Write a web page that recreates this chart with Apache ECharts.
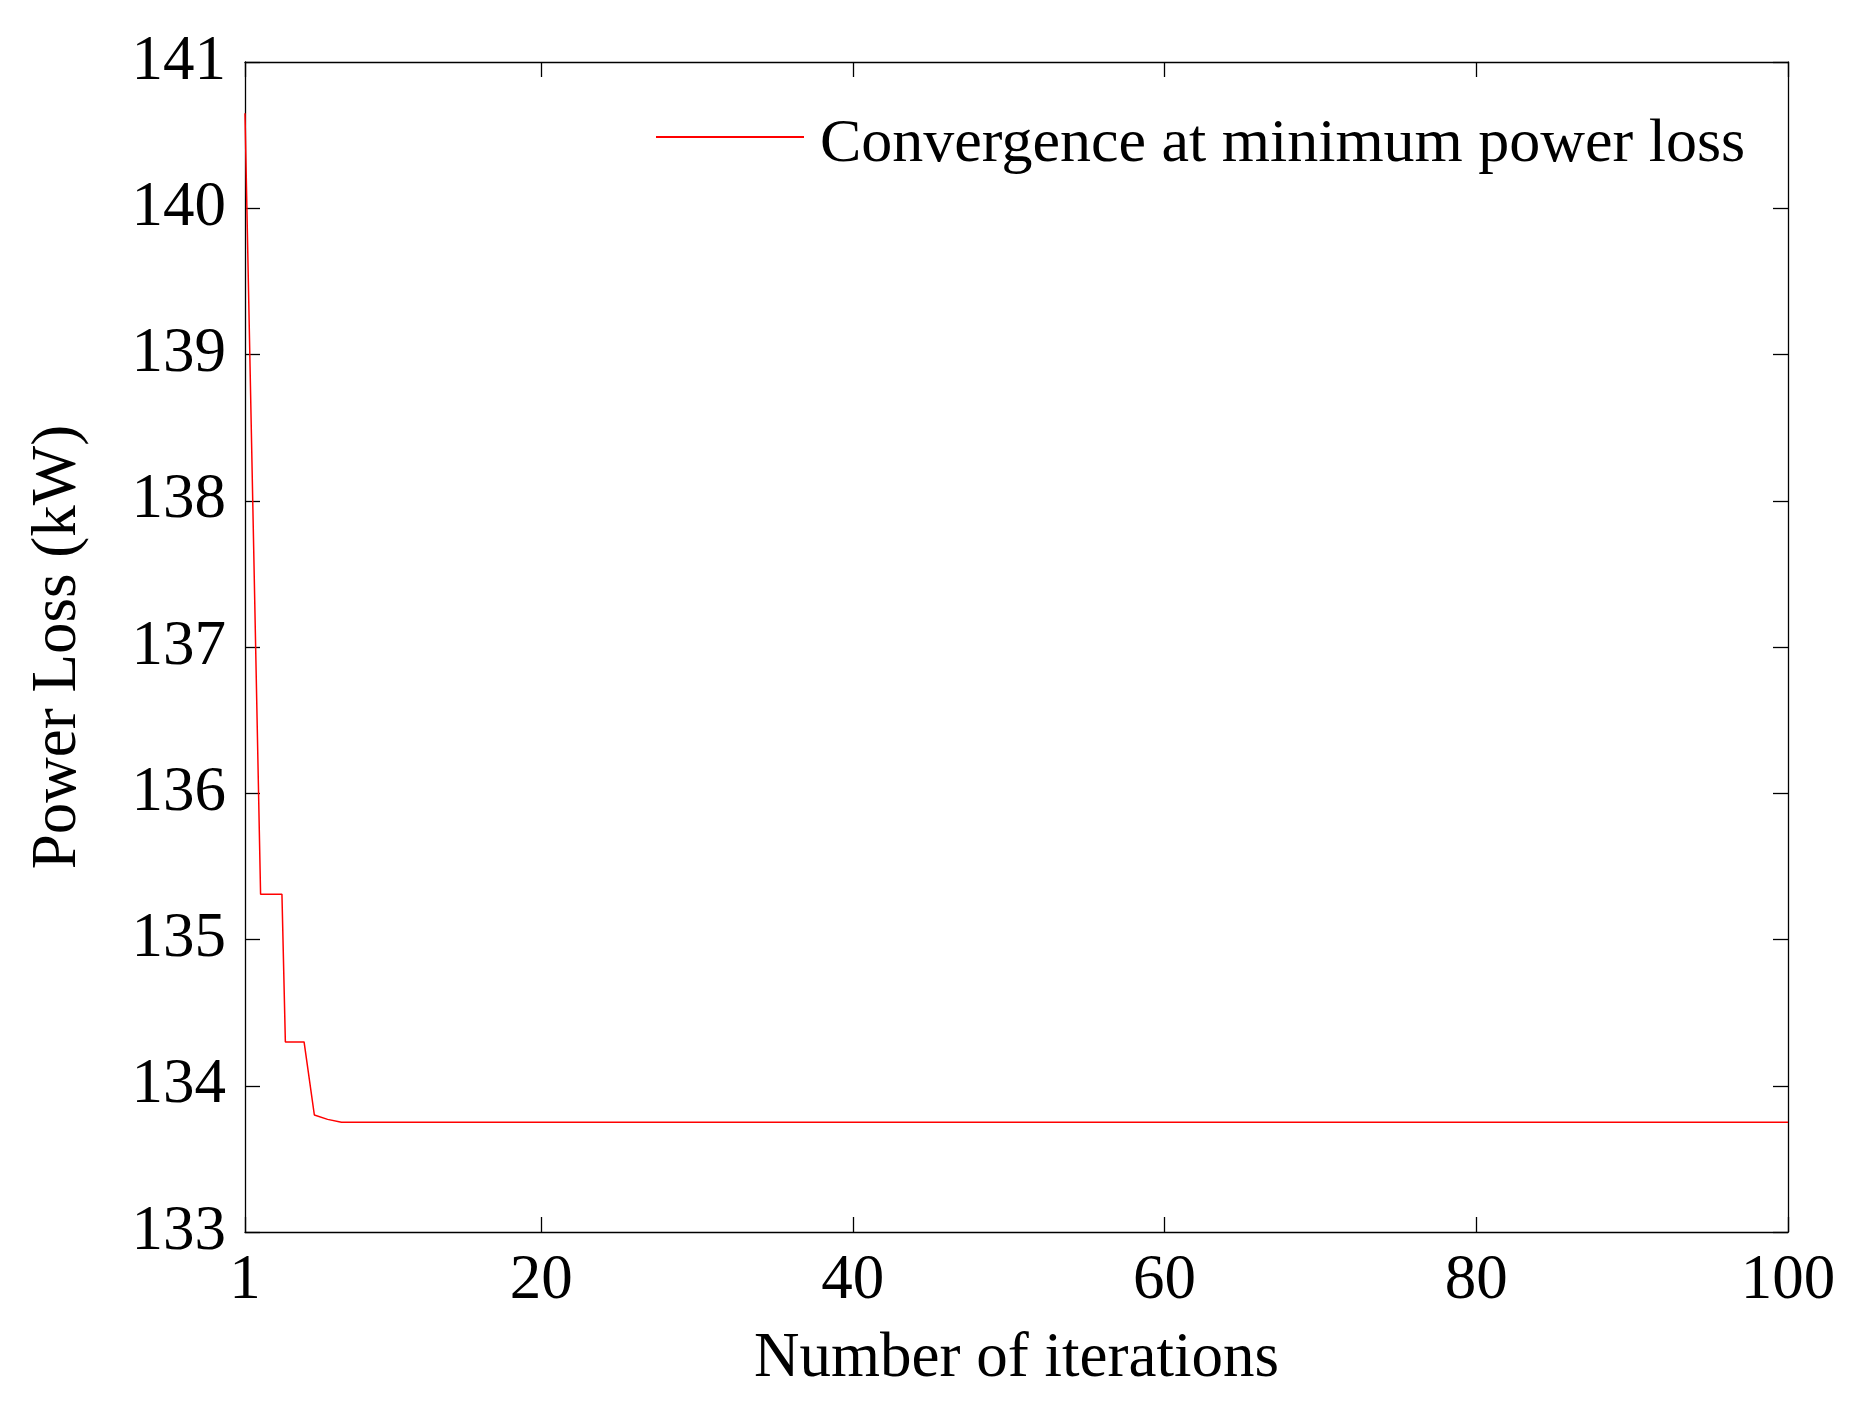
<!DOCTYPE html>
<html>
<head>
<meta charset="utf-8">
<script src="https://cdn.jsdelivr.net/npm/echarts@6/dist/echarts.min.js"></script>
<style>
html,body{margin:0;padding:0;background:#fff;}
#chart{width:1860px;height:1408px;}
</style>
</head>
<body>
<div id="chart"></div>
<script>
// Data
const iterations = [1, 2, 3.37, 3.59, 4.79, 5.45, 6.3, 7.19, 100];
const powerLoss = [140.65, 135.31, 135.31, 134.30, 134.30, 133.80, 133.77, 133.75, 133.75];
const xTicks = [1, 20, 40, 60, 80, 100];
const yTicks = [133, 134, 135, 136, 137, 138, 139, 140, 141];
const seriesName = 'Convergence at minimum power loss';
const xTitle = 'Number of iterations';
const yTitle = 'Power Loss (kW)';

const FONT = 'Liberation Serif';
const FS = 63;

const points = iterations.map((x, i) => [x, powerLoss[i]]);

const chart = echarts.init(document.getElementById('chart'), null, {renderer: 'canvas'});

const axisLineStyle = {color: '#000', width: 1.3};
const tickStyle = {color: '#000', width: 1.3};

chart.setOption({
  animation: false,
  backgroundColor: '#fff',
  grid: {left: 245, right: 72, top: 62, bottom: 176, containLabel: false},
  legend: {
    data: [seriesName],
    left: 651,
    top: 104,
    icon: 'path://M0,0L148,0L148,2L0,2Z M0,18L0.01,18L0.01,18Z',
    itemWidth: 148,
    itemHeight: 18,
    itemGap: 10,
    textStyle: {fontFamily: FONT, fontSize: 62, color: '#000', lineHeight: 72, padding: [0, 0, 0, 11]}
  },
  xAxis: [{
    type: 'value',
    min: xTicks[0],
    max: xTicks[xTicks.length - 1],
    name: xTitle,
    nameLocation: 'middle',
    nameGap: 96,
    nameTextStyle: {fontFamily: FONT, fontSize: FS, color: '#000'},
    axisLine: {show: true, lineStyle: axisLineStyle},
    axisTick: {show: true, inside: true, length: 15, lineStyle: tickStyle, customValues: xTicks},
    axisLabel: {show: true, fontFamily: FONT, fontSize: FS, color: '#000', margin: 18, customValues: xTicks},
    splitLine: {show: false}
  }, {
    type: 'value',
    position: 'top',
    min: xTicks[0],
    max: xTicks[xTicks.length - 1],
    axisLine: {show: true, lineStyle: axisLineStyle},
    axisTick: {show: true, inside: true, length: 15, lineStyle: tickStyle, customValues: xTicks},
    axisLabel: {show: false},
    splitLine: {show: false}
  }],
  yAxis: [{
    type: 'value',
    min: yTicks[0],
    max: yTicks[yTicks.length - 1],
    interval: 1,
    name: yTitle,
    nameLocation: 'middle',
    nameGap: 155,
    nameTextStyle: {fontFamily: FONT, fontSize: FS, color: '#000'},
    axisLine: {show: true, lineStyle: axisLineStyle},
    axisTick: {show: true, inside: true, length: 15, lineStyle: tickStyle},
    axisLabel: {show: true, fontFamily: FONT, fontSize: FS, color: '#000', margin: 19},
    splitLine: {show: false}
  }, {
    type: 'value',
    position: 'right',
    min: yTicks[0],
    max: yTicks[yTicks.length - 1],
    interval: 1,
    axisLine: {show: true, lineStyle: axisLineStyle},
    axisTick: {show: true, inside: true, length: 15, lineStyle: tickStyle},
    axisLabel: {show: false},
    splitLine: {show: false}
  }],
  series: [{
    name: seriesName,
    type: 'line',
    data: points,
    symbol: 'none',
    showSymbol: false,
    lineStyle: {color: '#ff0000', width: 1.5},
    itemStyle: {color: '#ff0000'},
    xAxisIndex: 0,
    yAxisIndex: 0
  }]
});
</script>
</body>
</html>
